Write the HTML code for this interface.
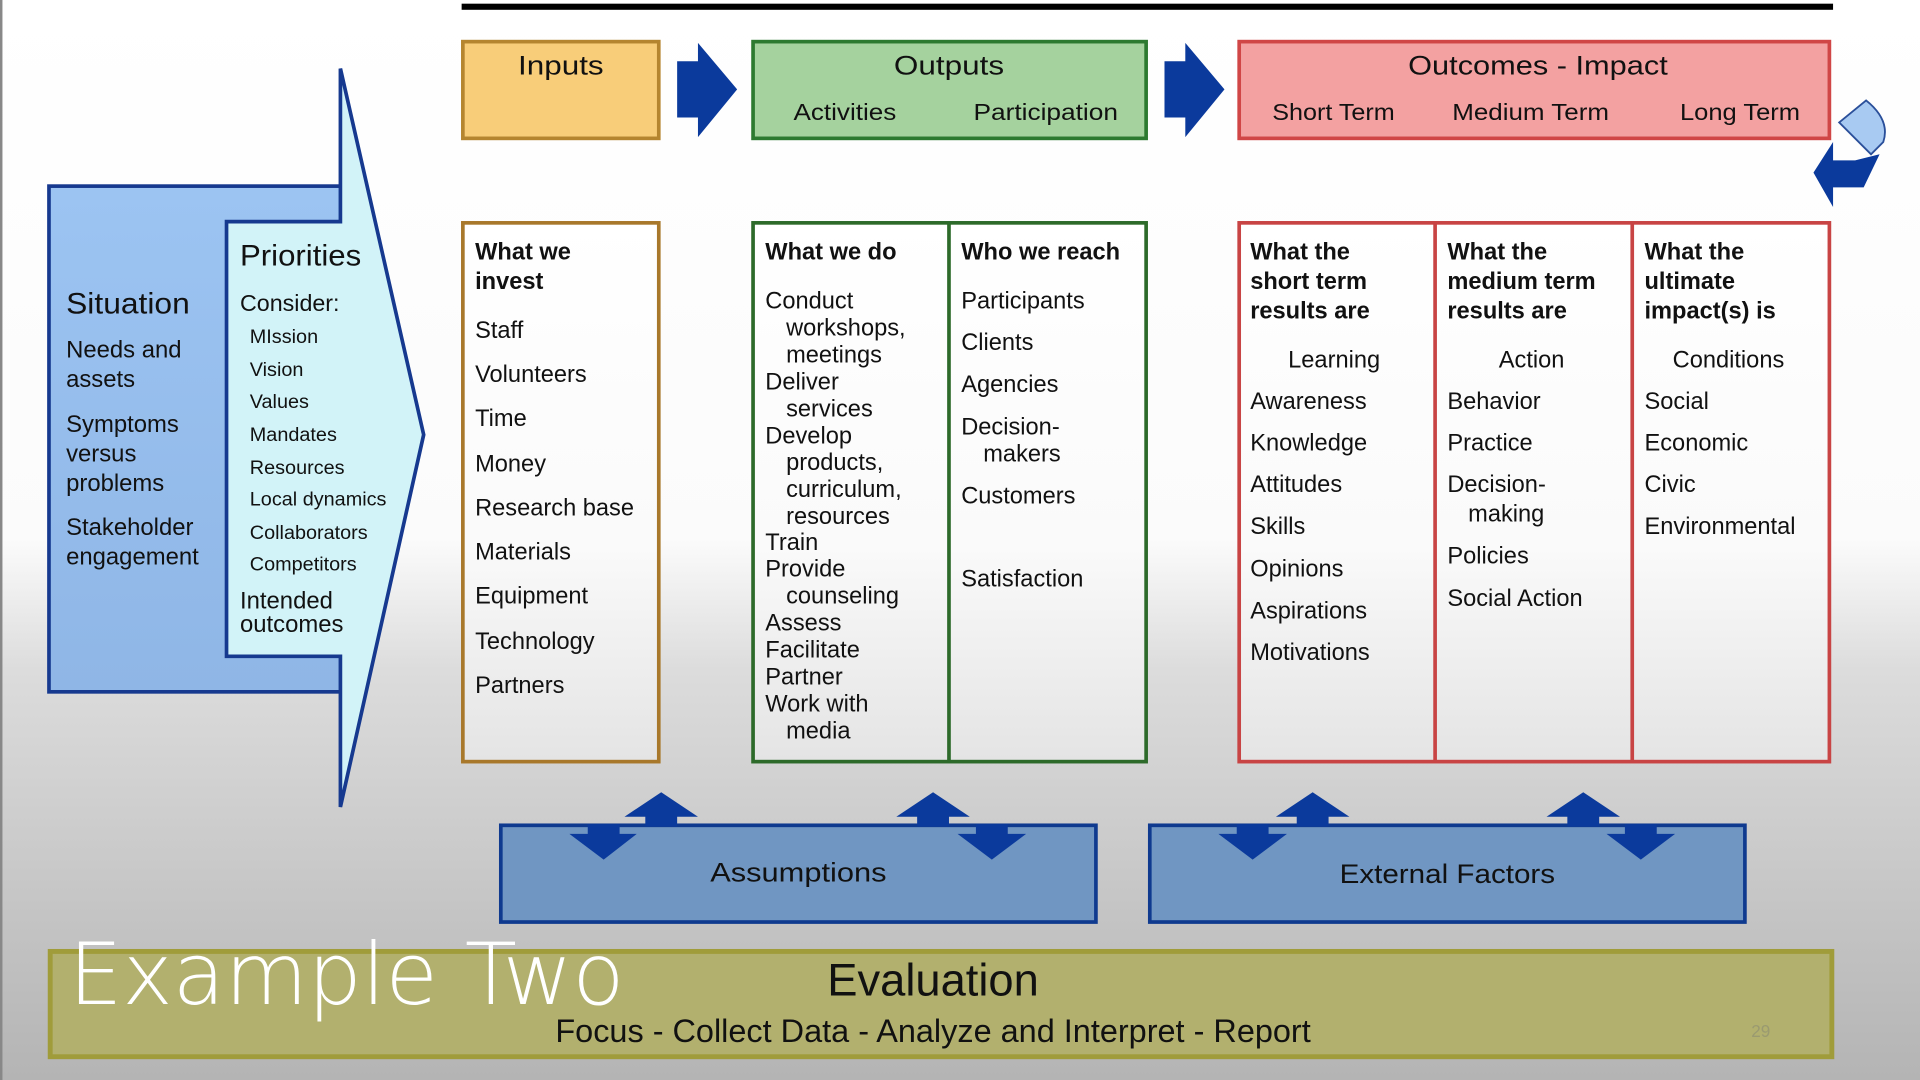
<!DOCTYPE html>
<html><head><meta charset="utf-8"><style>
html,body{margin:0;padding:0;width:1920px;height:1080px;overflow:hidden;}
svg{display:block;}
text{font-family:"Liberation Sans",Arial,sans-serif;}
.n{font-family:"Liberation Sans Narrow","Liberation Sans",sans-serif;}
</style></head><body>
<svg width="1920" height="1080" viewBox="0 0 1568 882" xmlns="http://www.w3.org/2000/svg">
<defs>
<linearGradient id="bg" x1="0" y1="0" x2="0" y2="1">
<stop offset="0" stop-color="#ffffff"/><stop offset="0.5" stop-color="#fbfbfb"/><stop offset="0.62" stop-color="#dcdcdc"/><stop offset="1" stop-color="#b4b4b4"/>
</linearGradient>
<linearGradient id="sit" x1="0" y1="0" x2="0" y2="1">
<stop offset="0" stop-color="#9cc4f2"/><stop offset="1" stop-color="#8fb6e6"/>
</linearGradient>
<linearGradient id="box" x1="0" y1="0" x2="0" y2="1">
<stop offset="0" stop-color="#ffffff"/><stop offset="0.6" stop-color="#fafafa"/><stop offset="1" stop-color="#e4e4e4"/>
</linearGradient>
</defs>
<rect width="1568" height="882" fill="url(#bg)"/>
<rect x="0" y="0" width="2" height="882" fill="#888"/>
<rect x="377" y="3" width="1120" height="5" fill="#000"/>

<rect x="378" y="34" width="160" height="79" fill="#f8cd79" stroke="#b5852f" stroke-width="3"/>
<text x="458" y="61" font-size="22" text-anchor="middle" class="n" fill="#111" textLength="70" lengthAdjust="spacingAndGlyphs">Inputs</text>
<polygon points="553,50 570,50 570,35 602,73 570,112 570,96 553,96" fill="#0b3a9c"/>
<rect x="615" y="34" width="321" height="79" fill="#a5d29e" stroke="#2d7a30" stroke-width="3"/>
<text x="775" y="61" font-size="22" text-anchor="middle" class="n" fill="#111" textLength="90" lengthAdjust="spacingAndGlyphs">Outputs</text>
<text x="690" y="98" font-size="19" text-anchor="middle" class="n" fill="#111" textLength="84" lengthAdjust="spacingAndGlyphs">Activities</text>
<text x="854" y="98" font-size="19" text-anchor="middle" class="n" fill="#111" textLength="118" lengthAdjust="spacingAndGlyphs">Participation</text>
<polygon points="951,50 968,50 968,35 1000,73 968,112 968,96 951,96" fill="#0b3a9c"/>
<rect x="1012" y="34" width="482" height="79" fill="#f3a1a1" stroke="#d04646" stroke-width="3"/>
<text x="1256" y="61" font-size="22" text-anchor="middle" class="n" fill="#111" textLength="212" lengthAdjust="spacingAndGlyphs">Outcomes - Impact</text>
<text x="1089" y="98" font-size="19" text-anchor="middle" class="n" fill="#111" textLength="100" lengthAdjust="spacingAndGlyphs">Short Term</text>
<text x="1250" y="98" font-size="19" text-anchor="middle" class="n" fill="#111" textLength="128" lengthAdjust="spacingAndGlyphs">Medium Term</text>
<text x="1421" y="98" font-size="19" text-anchor="middle" class="n" fill="#111" textLength="98" lengthAdjust="spacingAndGlyphs">Long Term</text>
<path d="M1502,100 L1524,82 Q1544,98 1538,116 L1528,126 Q1514,112 1502,100 Z" fill="#a8caf2" stroke="#2a4f9a" stroke-width="1.5"/>
<polygon points="1535,126 1522,153 1497,153 1497,169 1481,141 1497,116 1497,131 1515,131" fill="#0b3a9c"/>

<rect x="40" y="152" width="240" height="413" fill="url(#sit)" stroke="#16398f" stroke-width="3"/>
<polygon points="185,181 278,181 278,56 346,355 278,659 278,536 185,536" fill="#d2f3f8" stroke="#16398f" stroke-width="3"/>
<text x="54" y="256" font-size="24" class="n" fill="#111" textLength="101" lengthAdjust="spacingAndGlyphs">Situation</text>
<g font-size="19.5" fill="#111">
<text x="54" y="292">Needs and</text><text x="54" y="316">assets</text>
<text x="54" y="353">Symptoms</text><text x="54" y="377">versus</text><text x="54" y="401">problems</text>
<text x="54" y="437">Stakeholder</text><text x="54" y="461">engagement</text>
</g>
<text x="196" y="217" font-size="24" class="n" fill="#111" textLength="99" lengthAdjust="spacingAndGlyphs">Priorities</text>
<text x="196" y="254" font-size="19" fill="#111">Consider:</text>
<g font-size="16.2" fill="#111">
<text x="204" y="280">MIssion</text><text x="204" y="307">Vision</text><text x="204" y="333">Values</text>
<text x="204" y="360">Mandates</text><text x="204" y="387">Resources</text><text x="204" y="413">Local dynamics</text>
<text x="204" y="440">Collaborators</text><text x="204" y="466">Competitors</text>
</g>
<g font-size="19.5" fill="#111"><text x="196" y="497">Intended</text><text x="196" y="516">outcomes</text></g>

<rect x="378" y="182" width="160" height="440" fill="url(#box)" stroke="#a8782b" stroke-width="3"/>
<rect x="615" y="182" width="321" height="440" fill="url(#box)" stroke="#2d6a2a" stroke-width="3"/>
<line x1="775" y1="182" x2="775" y2="622" stroke="#2d6a2a" stroke-width="3"/>
<rect x="1012" y="182" width="482" height="440" fill="url(#box)" stroke="#c84444" stroke-width="3"/>
<line x1="1172" y1="182" x2="1172" y2="622" stroke="#c84444" stroke-width="3"/>
<line x1="1333" y1="182" x2="1333" y2="622" stroke="#c84444" stroke-width="3"/>

<g font-size="19.3" fill="#111">
<text x="388" y="212" font-weight="bold">What we</text><text x="388" y="236" font-weight="bold">invest</text>
<text x="388" y="276">Staff</text><text x="388" y="312">Volunteers</text><text x="388" y="348">Time</text>
<text x="388" y="385">Money</text><text x="388" y="421">Research base</text><text x="388" y="457">Materials</text>
<text x="388" y="493">Equipment</text><text x="388" y="530">Technology</text><text x="388" y="566">Partners</text>

<text x="625" y="212" font-weight="bold">What we do</text>
<text x="625" y="252">Conduct</text><text x="642" y="274">workshops,</text><text x="642" y="296">meetings</text>
<text x="625" y="318">Deliver</text><text x="642" y="340">services</text>
<text x="625" y="362">Develop</text><text x="642" y="384">products,</text><text x="642" y="406">curriculum,</text><text x="642" y="428">resources</text>
<text x="625" y="449">Train</text><text x="625" y="471">Provide</text><text x="642" y="493">counseling</text>
<text x="625" y="515">Assess</text><text x="625" y="537">Facilitate</text><text x="625" y="559">Partner</text>
<text x="625" y="581">Work with</text><text x="642" y="603">media</text>

<text x="785" y="212" font-weight="bold">Who we reach</text>
<text x="785" y="252">Participants</text><text x="785" y="286">Clients</text><text x="785" y="320">Agencies</text>
<text x="785" y="355">Decision-</text><text x="803" y="377">makers</text><text x="785" y="411">Customers</text>
<text x="785" y="479">Satisfaction</text>

<text x="1021" y="212" font-weight="bold">What the</text><text x="1021" y="236" font-weight="bold">short term</text><text x="1021" y="260" font-weight="bold">results are</text>
<text x="1052" y="300">Learning</text><text x="1021" y="334">Awareness</text><text x="1021" y="368">Knowledge</text>
<text x="1021" y="402">Attitudes</text><text x="1021" y="436">Skills</text><text x="1021" y="471">Opinions</text>
<text x="1021" y="505">Aspirations</text><text x="1021" y="539">Motivations</text>

<text x="1182" y="212" font-weight="bold">What the</text><text x="1182" y="236" font-weight="bold">medium term</text><text x="1182" y="260" font-weight="bold">results are</text>
<text x="1224" y="300">Action</text><text x="1182" y="334">Behavior</text><text x="1182" y="368">Practice</text>
<text x="1182" y="402">Decision-</text><text x="1199" y="426">making</text><text x="1182" y="460">Policies</text>
<text x="1182" y="495">Social Action</text>

<text x="1343" y="212" font-weight="bold">What the</text><text x="1343" y="236" font-weight="bold">ultimate</text><text x="1343" y="260" font-weight="bold">impact(s) is</text>
<text x="1366" y="300">Conditions</text><text x="1343" y="334">Social</text><text x="1343" y="368">Economic</text>
<text x="1343" y="402">Civic</text><text x="1343" y="436">Environmental</text>
</g>

<rect x="409" y="674" width="486" height="79" fill="#7096c2" stroke="#0f3a8f" stroke-width="3"/>
<rect x="939" y="674" width="486" height="79" fill="#7096c2" stroke="#0f3a8f" stroke-width="3"/>
<text x="652" y="720" font-size="22" text-anchor="middle" class="n" fill="#111" textLength="144" lengthAdjust="spacingAndGlyphs">Assumptions</text>
<text x="1182" y="721" font-size="22" text-anchor="middle" class="n" fill="#111" textLength="176" lengthAdjust="spacingAndGlyphs">External Factors</text>
<g fill="#0b3a9c">
<polygon points="510,667 540,647 570,667 553,667 553,675 527,675 527,667"/>
<polygon points="732,667 762,647 792,667 775,667 775,675 749,675 749,667"/>
<polygon points="1042,667 1072,647 1102,667 1085,667 1085,675 1059,675 1059,667"/>
<polygon points="1263,667 1293,647 1323,667 1306,667 1306,675 1280,675 1280,667"/>
<polygon points="480,673 506,673 506,681 520,681 493,702 465,681 480,681"/>
<polygon points="797,673 823,673 823,681 838,681 810,702 782,681 797,681"/>
<polygon points="1010,673 1036,673 1036,681 1051,681 1023,702 995,681 1010,681"/>
<polygon points="1327,673 1353,673 1353,681 1368,681 1340,702 1312,681 1327,681"/>
</g>

<rect x="41" y="777" width="1455" height="86" fill="#b2b06e" stroke="#a09c3a" stroke-width="4"/>
<text x="762" y="813" font-size="37" text-anchor="middle" fill="#111">Evaluation</text>
<text x="762" y="851" font-size="26.5" text-anchor="middle" fill="#111">Focus - Collect Data - Analyze and Interpret - Report</text>
<text x="1438" y="847" font-size="14" text-anchor="middle" fill="#9a9a70" class="n">29</text>
<text x="56" y="820" font-size="70" fill="#ffffff" style="font-family:'DejaVu Sans','Liberation Sans',sans-serif;font-weight:200" textLength="454" lengthAdjust="spacingAndGlyphs">Example Two</text>
</svg>
</body></html>
